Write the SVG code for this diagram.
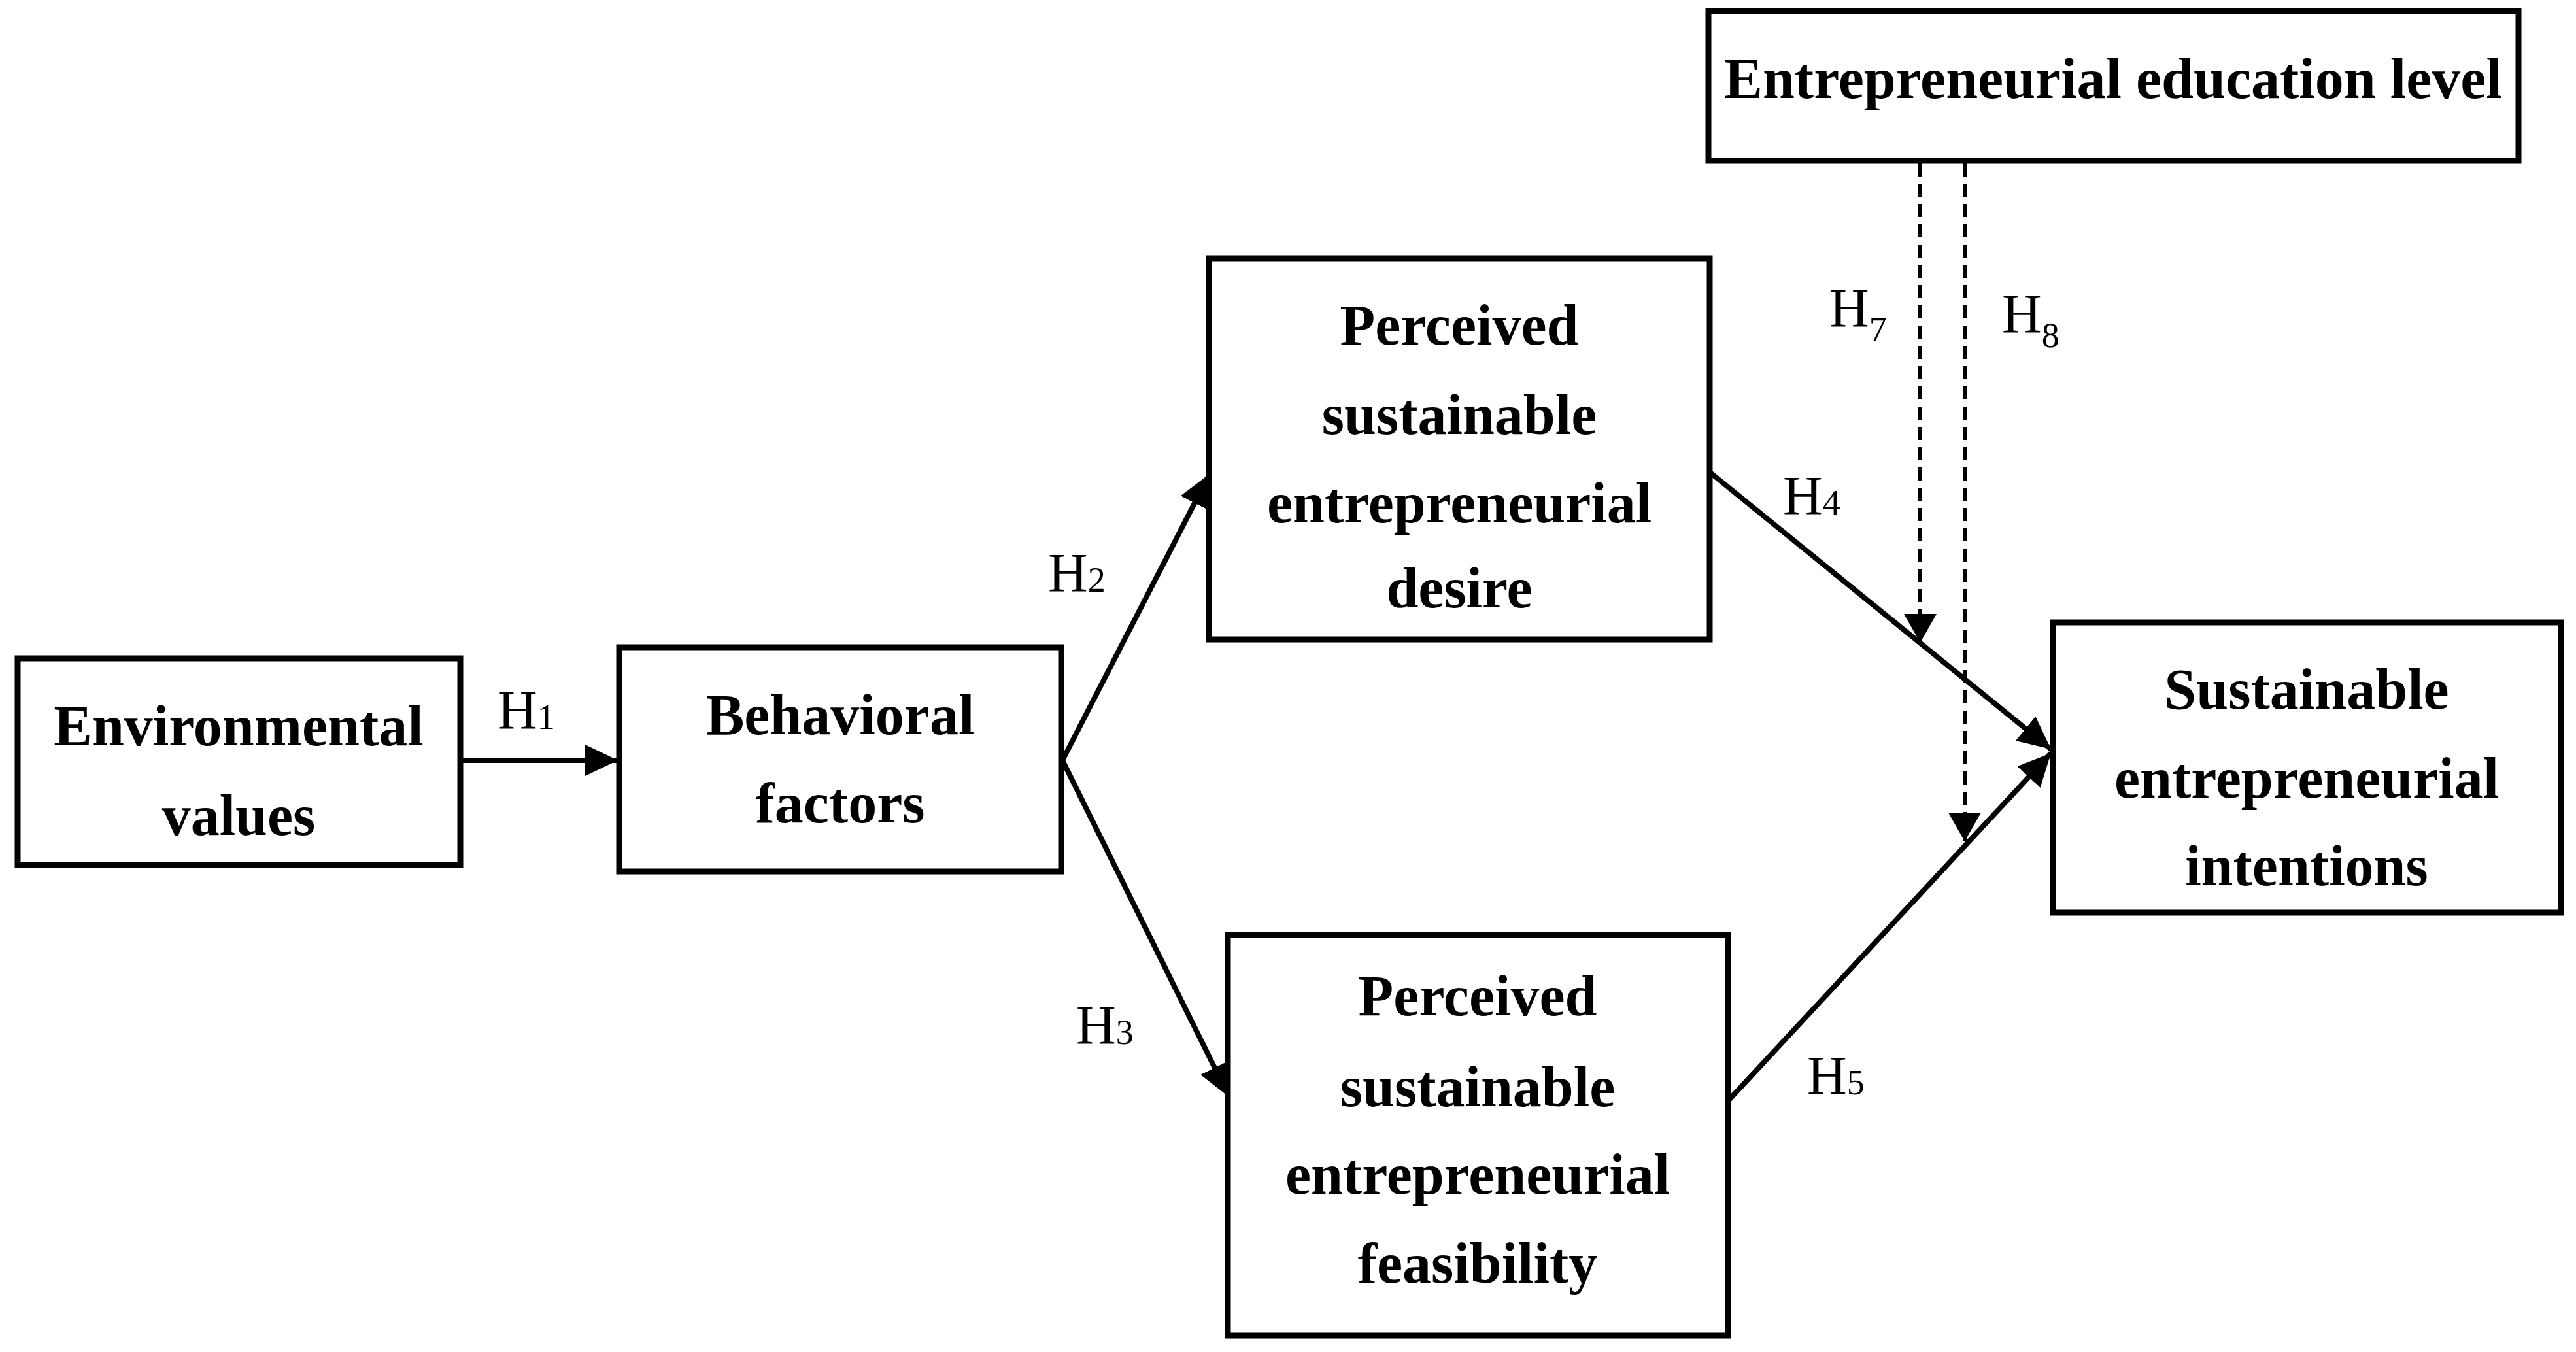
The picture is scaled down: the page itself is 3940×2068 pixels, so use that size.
<svg xmlns="http://www.w3.org/2000/svg" width="3940" height="2068" viewBox="0 0 3940 2068">
<style>
.box{fill:#fff;stroke:#000;stroke-width:9}
.t{font-family:"Liberation Serif","Times New Roman",serif;font-weight:bold;font-size:88px;text-anchor:middle;fill:#000}
.lbl{font-family:"Liberation Serif","Times New Roman",serif;font-size:84px;fill:#000}
.sub{font-size:54px}
.conn{stroke:#000;stroke-width:8;fill:none}
.dash{stroke:#000;stroke-width:6;fill:none;stroke-dasharray:20 11}
</style>
<defs>
<marker id="ah" viewBox="0 0 50 48" refX="50" refY="24" markerWidth="50" markerHeight="48" markerUnits="userSpaceOnUse" orient="auto">
<path d="M0,0 L50,24 L0,48 Z" fill="#000"/>
</marker>
<marker id="ahd" viewBox="0 0 44 50" refX="44" refY="25" markerWidth="44" markerHeight="50" markerUnits="userSpaceOnUse" orient="auto">
<path d="M0,0 L44,25 L0,50 Z" fill="#000"/>
</marker>
</defs>
<rect width="3940" height="2068" fill="#fff"/>
<g id="connectors">
<line class="conn" x1="704" y1="1163" x2="945" y2="1163" marker-end="url(#ah)"/>
<line class="conn" x1="1625" y1="1163" x2="1850" y2="725" marker-end="url(#ah)"/>
<line class="conn" x1="1625" y1="1163" x2="1880" y2="1678" marker-end="url(#ah)"/>
<line class="conn" x1="2616" y1="723" x2="3137" y2="1146" marker-end="url(#ah)"/>
<line class="conn" x1="2643" y1="1684" x2="3137" y2="1152" marker-end="url(#ah)"/>
<line class="dash" x1="2937" y1="250" x2="2937" y2="983" marker-end="url(#ahd)"/>
<line class="dash" x1="3005" y1="250" x2="3005" y2="1287" marker-end="url(#ahd)"/>
</g>
<g id="labels">
<text class="lbl" x="761" y="1115">H<tspan class="sub">1</tspan></text>
<text class="lbl" x="1603" y="905">H<tspan class="sub">2</tspan></text>
<text class="lbl" x="1646" y="1597">H<tspan class="sub">3</tspan></text>
<text class="lbl" x="2727" y="787">H<tspan class="sub">4</tspan></text>
<text class="lbl" x="2764" y="1674">H<tspan class="sub">5</tspan></text>
<text class="lbl" x="2798" y="500">H<tspan class="sub" dy="22">7</tspan></text>
<text class="lbl" x="3062" y="509">H<tspan class="sub" dy="22">8</tspan></text>
</g>
<g id="node-env">
<rect class="box" x="27" y="1007" width="677" height="316"/>
<text class="t" x="365" y="1140">Environmental</text>
<text class="t" x="365" y="1277">values</text>
</g>
<g id="node-beh">
<rect class="box" x="947" y="990" width="676" height="343"/>
<text class="t" x="1285" y="1123">Behavioral</text>
<text class="t" x="1285" y="1258">factors</text>
</g>
<g id="node-desire">
<rect class="box" x="1849" y="395" width="766" height="583"/>
<text class="t" x="2232" y="527">Perceived</text>
<text class="t" x="2232" y="664">sustainable</text>
<text class="t" x="2232" y="799">entrepreneurial</text>
<text class="t" x="2232" y="929">desire</text>
</g>
<g id="node-feas">
<rect class="box" x="1878" y="1430" width="765" height="613"/>
<text class="t" x="2260" y="1553">Perceived</text>
<text class="t" x="2260" y="1692">sustainable</text>
<text class="t" x="2260" y="1826">entrepreneurial</text>
<text class="t" x="2260" y="1962">feasibility</text>
</g>
<g id="node-intent">
<rect class="box" x="3140" y="952" width="777" height="444"/>
<text class="t" x="3528" y="1084">Sustainable</text>
<text class="t" x="3528" y="1220">entrepreneurial</text>
<text class="t" x="3528" y="1354">intentions</text>
</g>
<g id="node-edu">
<rect class="box" x="2613" y="17" width="1239" height="229"/>
<text class="t" x="3232" y="150">Entrepreneurial education level</text>
</g>
</svg>
